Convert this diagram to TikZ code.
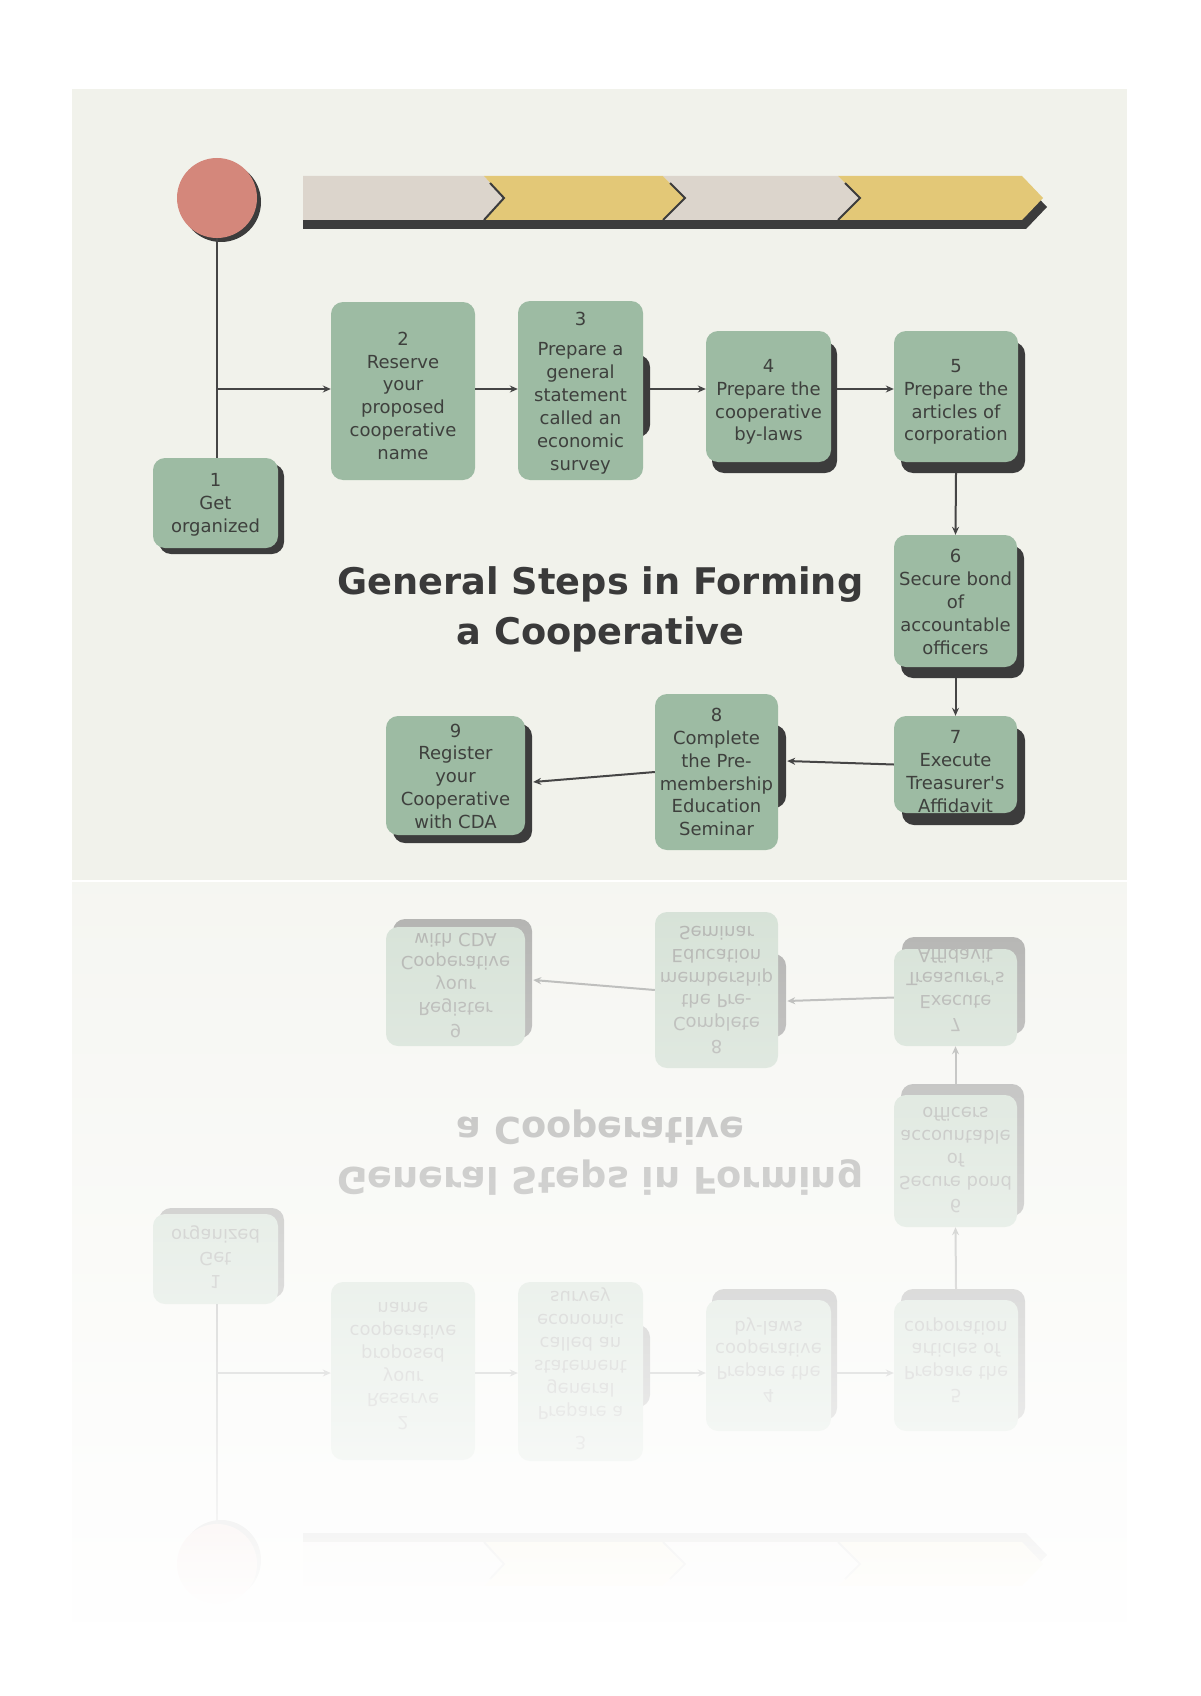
\documentclass[tikz,border=0pt]{standalone}
\usepackage{fontspec}
\setmainfont{DejaVu Sans}
\usetikzlibrary{arrows.meta}
\definecolor{panelc}{HTML}{F1F2EB}
\definecolor{boxbase}{HTML}{9DBBA3}
\definecolor{shadbase}{HTML}{3C3C3C}
\definecolor{linebase}{HTML}{454545}
\definecolor{textbase}{HTML}{3E403D}
\definecolor{circbase}{HTML}{D4877B}
\definecolor{graybase}{HTML}{DCD5CC}
\definecolor{yelbase}{HTML}{E3C877}
\definecolor{titlebase}{HTML}{3A3A3A}
\colorlet{boxc}{boxbase}
\colorlet{shadc}{shadbase}
\colorlet{linec}{linebase}
\colorlet{textc}{textbase}
\colorlet{circc}{circbase}
\colorlet{grayc}{graybase}
\colorlet{yelc}{yelbase}
\colorlet{titlec}{titlebase}
\tikzset{
  stepbox/.style={fill=boxc, rounded corners=12pt, inner sep=0pt, align=center,
    text=textc, font=\fontsize{18}{22.9}\selectfont},
  conn/.style={draw=linec, line width=2pt, -{Stealth[length=8pt,width=7pt]}},
  plainline/.style={draw=linec, line width=2pt},
  notch/.style={draw=shadc, line width=2pt},
  shadowbox/.style={fill=shadc, rounded corners=12pt},
}
\newcommand\DrawDiagram{%
  % progress band
  \fill[shadc] (303,185) -- (1026,185) -- (1047,207) -- (1026,229) -- (303,229) -- cycle;
  \fill[grayc] (303,176) -- (484,176) -- (504,198) -- (484,220) -- (303,220) -- cycle;
  \fill[yelc] (484,176) -- (663,176) -- (685,198) -- (663,220) -- (484,220) -- (504,198) -- cycle;
  \fill[grayc] (663,176) -- (838,176) -- (860,198) -- (838,220) -- (663,220) -- (685,198) -- cycle;
  \fill[yelc] (838,176) -- (1022,176) -- (1043,198) -- (1022,220) -- (838,220) -- (860,198) -- cycle;
  \draw[notch] (490,183) -- (504,198) -- (484,220);
  \draw[notch] (670,183) -- (685,198) -- (663,220);
  \draw[notch] (845,183) -- (860,198) -- (838,220);
  % start circle
  \fill[shadc] (221,202) circle (40);
  \node[circle, fill=circc, minimum size=80pt, inner sep=0pt] (circ) at (217,198) {};
  % box shadows
  \fill[shadowbox] (159,464) rectangle (284,554);
  \fill[shadowbox] (600,355) rectangle (650,437);
  \fill[shadowbox] (712,342) rectangle (837,473);
  \fill[shadowbox] (901,342) rectangle (1025,473);
  \fill[shadowbox] (901,546) rectangle (1024,678);
  \fill[shadowbox] (902,728) rectangle (1025,825);
  \fill[shadowbox] (700,725) rectangle (786,808);
  \fill[shadowbox] (393,724) rectangle (532,843);
  % steps
  \node[stepbox, minimum width=125pt, minimum height=90pt] (b1) at (215.5,503) {\rule{0pt}{16pt}1\\Get\\organized};
  \node[stepbox, minimum width=144pt, minimum height=178pt] (b2) at (403,391) {\rule{0pt}{23pt}2\\Reserve\\your\\proposed\\cooperative\\name};
  \node[stepbox, minimum width=125pt, minimum height=179pt] (b3) at (580.5,390.5) {\rule{0pt}{19pt}3\\[7pt]Prepare a\\general\\statement\\called an\\economic\\survey};
  \node[stepbox, minimum width=125pt, minimum height=131pt] (b4) at (768.5,396.5) {\rule{0pt}{24pt}4\\Prepare the\\cooperative\\by-laws};
  \node[stepbox, minimum width=124pt, minimum height=131pt] (b5) at (956,396.5) {\rule{0pt}{24pt}5\\Prepare the\\articles of\\corporation};
  \node[stepbox, minimum width=123pt, minimum height=132pt] (b6) at (955.5,601) {\rule{0pt}{15pt}6\\Secure bond\\of\\accountable\\officers};
  \node[stepbox, minimum width=123pt, minimum height=97pt] (b7) at (955.5,764.5) {\rule{0pt}{27pt}7\\Execute\\Treasurer\textquotesingle s\\Affidavit};
  \node[stepbox, minimum width=123pt, minimum height=156pt] (b8) at (716.5,772) {8\\Complete\\the Pre-\\membership\\Education\\Seminar};
  \node[stepbox, minimum width=139pt, minimum height=119pt] (b9) at (455.5,775.5) {\rule{0pt}{15pt}9\\Register\\your\\Cooperative\\with CDA};
  % title
  \node[align=center, inner sep=0pt, text=titlec,
        font=\fontsize{36.7}{50}\selectfont\bfseries] (title) at (600.5,609)
        {General Steps in Forming\\a Cooperative};
  % connectors
  \coordinate (br) at (217,389);
  \draw[plainline] (circ.south) -- (circ.south |- b1.north);
  \draw[conn] (br) -- (b2.west |- br);
  \draw[conn] (b2.east |- br) -- (b3.west |- br);
  \draw[conn] ([xshift=7pt]b3.east |- br) -- (b4.west |- br);
  \draw[conn] ([xshift=6pt]b4.east |- br) -- (b5.west |- br);
  \draw[conn] ([yshift=-11pt]b5.south) -- (b6.north);
  \draw[conn] ([yshift=-11pt]b6.south) -- (b7.north);
  \draw[conn] (b7.west) -- ([xshift=9pt,yshift=11pt]b8.east);
  \draw[conn] (b8.west) -- ([xshift=8pt,yshift=-6.5pt]b9.east);
}
\begin{document}
\begin{tikzpicture}[x=1pt, y=-1pt]
  \useasboundingbox (0,0) rectangle (1200,1696);
  \fill[white] (0,0) rectangle (1200,1696);
  \fill[panelc] (72,89) rectangle (1127,880);
  \DrawDiagram
  % reflection
  \begin{scope}[shift={(0,1762)}, yscale=-1, transform shape]
    \colorlet{boxc}{boxbase!58!panelc}
    \colorlet{shadc}{shadbase!58!panelc}
    \colorlet{linec}{linebase!58!panelc}
    \colorlet{textc}{textbase!58!panelc}
    \colorlet{circc}{circbase!58!panelc}
    \colorlet{grayc}{graybase!58!panelc}
    \colorlet{yelc}{yelbase!58!panelc}
    \colorlet{titlec}{titlebase!58!panelc}
    \fill[panelc] (72,89) rectangle (1127,880);
    \DrawDiagram
  \end{scope}
  % fade of the reflection
  \foreach \i in {0,...,184} {
    \pgfmathsetmacro\yy{882+4*\i}
    \pgfmathsetmacro\yb{886+4*\i}
    \pgfmathsetmacro\op{1-0.65*(1-4*\i/740)}
    \fill[white, fill opacity=\op] (0,\yy) rectangle (1200,\yb);
  }
  \fill[white] (0,1622) rectangle (1200,1696);
\end{tikzpicture}
\end{document}
